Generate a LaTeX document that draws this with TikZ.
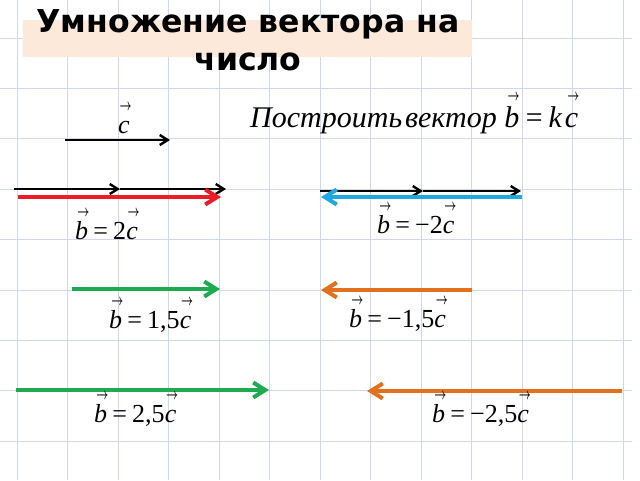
\documentclass[tikz,border=0pt]{standalone}
\usepackage{amsmath}
\usepackage{fontspec}
\setmainfont{Liberation Serif}
\newfontfamily\titlefont{DejaVu Sans}
\usetikzlibrary{arrows.meta}

\definecolor{gridblue}{HTML}{CDD8E8}
\definecolor{titlepeach}{HTML}{FCE9DA}
\definecolor{vred}{HTML}{EC1C24}
\definecolor{vblue}{HTML}{1FA8E1}
\definecolor{vgreen}{HTML}{1DAA50}
\definecolor{vorange}{HTML}{E2701C}

% letter with a small arrow over it
\newcommand{\vk}[1]{\leavevmode\setbox0=\hbox{\textit{#1}}%
  \rlap{\hbox to \wd0{\hss\hspace{0.12em}\raisebox{0.88em}{\scalebox{0.42}[0.65]{$\boldsymbol{\rightarrow}$}}\hss}}\box0}
\newcommand{\eq}{\hspace{0.2em}=\hspace{0.2em}}

\tikzset{
  gridline/.style={gridblue, line width=0.9pt},
  thinvec/.style={line width=2.4pt, -{Straight Barb[length=8pt,width=10pt]}},
  fatvec/.style={line width=4pt, -{Straight Barb[length=12pt,width=15pt]}},
  lbl/.style={inner sep=0pt, anchor=base west, font=\fontsize{26}{30}\selectfont},
  titletext/.style={inner sep=0pt, anchor=base, font=\titlefont\bfseries\fontsize{31.5}{36}\selectfont}
}

\begin{document}
\begin{tikzpicture}[x=1pt,y=-1pt]
  \useasboundingbox (0,0) rectangle (640,480);
  \fill[white] (0,0) rectangle (640,480);

  % Grid
  \foreach \i in {0,...,12}
    \draw[gridline] (17+50.5*\i,0) -- (17+50.5*\i,480);
  \foreach \j in {0,...,8}
    \draw[gridline] (0,38+50.4*\j) -- (632,38+50.4*\j);

  % Title
  \fill[titlepeach] (23,20) rectangle (472,57);
  \node[titletext] (title1) at (248,32) {Умножение вектора на};
  \node[titletext] (title2) at (248,70) {число};

  % Task
  \node[lbl, font=\itshape\fontsize{30}{36}\selectfont] (task) at (250,127)
    {Построить\hspace{0.1em}вектор \vk{b}\hspace{0.15em}=\hspace{0.15em}\textit{k}\hspace{0.1em}\vk{c}};

  % Vector c
  \coordinate (c0) at (65,140);
  \coordinate (c1) at (170,140);
  \draw[thinvec] (c0) -- (c1);
  \node[lbl] (clbl) at (118,133) {\vk{c}};

  % b = 2c
  \coordinate (a0) at (14,189);
  \coordinate (a1) at (120,189);
  \coordinate (a2) at (226,189);
  \draw[thinvec] (a0) -- (a1);
  \draw[thinvec] (a1) -- (a2);
  \coordinate (r0) at (18,197);
  \coordinate (r1) at (221,197);
  \draw[fatvec, vred] (r0) -- (r1);
  \node[lbl] (lbl2) at (75,239) {\vk{b}\eq2\vk{c}};

  % b = -2c
  \coordinate (d0) at (320,191);
  \coordinate (d1) at (423,191);
  \coordinate (d2) at (521,191);
  \draw[thinvec] (d0) -- (d1);
  \draw[thinvec] (d1) -- (d2);
  \coordinate (u0) at (522,197);
  \coordinate (u1) at (321,197);
  \draw[fatvec, vblue] (u0) -- (u1);
  \node[lbl] (lblm2) at (377,233) {\vk{b}\eq−2\vk{c}};

  % b = 1,5c and b = -1,5c
  \coordinate (g0) at (72,289);
  \coordinate (g1) at (220,289);
  \draw[fatvec, vgreen] (g0) -- (g1);
  \node[lbl] (lbl15) at (109,328) {\vk{b}\eq1,5\vk{c}};
  \coordinate (o0) at (472,290);
  \coordinate (o1) at (321,290);
  \draw[fatvec, vorange] (o0) -- (o1);
  \node[lbl] (lblm15) at (349,327) {\vk{b}\eq−1,5\vk{c}};

  % b = 2,5c and b = -2,5c
  \coordinate (h0) at (16,390);
  \coordinate (h1) at (269,390);
  \draw[fatvec, vgreen] (h0) -- (h1);
  \node[lbl] (lbl25) at (94,422) {\vk{b}\eq2,5\vk{c}};
  \coordinate (p0) at (622,391);
  \coordinate (p1) at (367,391);
  \draw[fatvec, vorange] (p0) -- (p1);
  \node[lbl] (lblm25) at (432,422) {\vk{b}\eq−2,5\vk{c}};
\end{tikzpicture}
\end{document}
